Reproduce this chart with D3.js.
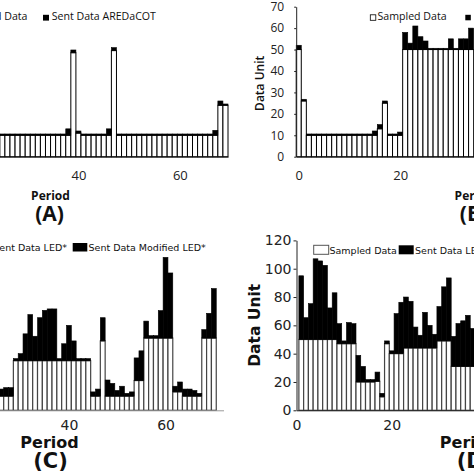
<!DOCTYPE html>
<html>
<head>
<meta charset="utf-8">
<script src="https://cdn.jsdelivr.net/npm/d3@7/dist/d3.min.js"></script>
<style>
  body { margin: 0; background: #fff; }
  svg { display: block; }
</style>
</head>
<body>
<div class="root"></div>
<script>
// panel A : periods 24..69 are visible
var aStart = 24;
var aSampled = [10,10,10,10,10,10,10,10,10,10,10,10,10,10,10, 48.5, 11, 10,10,10,10,10,10, 49.5,
  10,10,10,10,10,10,10,10,10,10,10,10,10,10,10,10,10,10,10,10, 24, 24];
var aSent = [0.6,0.6,0.6,0.6,0.6,0.6,0.6,0.6,0.6,0.6,0.6,0.6,0.6,0.6, 3, 1.3, 1, 0.6,0.6,0.6,0.6,0.6, 3, 1.4,
  0.6,0.6,0.6,0.6,0.6,0.6,0.6,0.6,0.6,0.6,0.6,0.6,0.6,0.6,0.6,0.6,0.6,0.6,0.6, 2.3, 2, 0.6];

// panel B : periods 0..34
var bStart = 0;
var bSampled = [50, 26, 10,10,10,10,10,10,10,10,10,10,10,10,10,10, 13, 25, 10, 10, 10,
  50,50,50,50,50,50,50,50,50,50,50,50,50,50];
var bSent = [2, 0.8, 0.6,0.6,0.6,0.6,0.6,0.6,0.6,0.6,0.6,0.6,0.6,0.6,0.6, 2, 2, 1, 0.6, 0.6, 1.5,
  8, 3, 11, 6, 4, 0.6, 0.6, 0.6, 0.6, 5, 0.6, 5, 5, 10];

// panel C : periods 26..70
var cStart = 26;
var cSampled = [10,10,10, 35,35,35,35,35,35,35,35,35,35,35,35,35,35,35,35, 10,10, 49,
  10,10,10,10,10,10, 21,21, 51,51,51,51,51,51, 13,13, 10,10,10,10, 51,51,51];
var cSent = [5,6,6, 1.5,5,19,32.6,17.3,30.4,35.6,36.6,36.6,1.5,12,25,14,1.5,1.5,1.5, 3,5, 16.4,
  11.4,9,4,7,2,3, 16,21, 12,1.7,1.7,19.4,57,46, 4,7, 5,5,4,2, 6,17.5,35];

// panel D : periods 1..37
var dStart = 1;
var dSampled = [50,50,50,50,50,50,50,50, 47,47,47,47, 20,20,20,20, 20.5, 9.5, 47, 40,40,40,
  44,44,44,44,44,44,44, 49,49,49, 31,31,31,31,31];
var dSent = [45,15.4,25.3,57,55.5,52.4,22.3,33, 14.2,2,15,14.2, 18.8,11,1.7,1.7, 6.5, 2.5, 2, 2,28.3,36.3,
  36,33,14.8,9,25.2,16,9.7, 24.3,38.2,44.5, 21.2,30.3,32.2,36.1,26.8];

var xTicks = [0, 20, 40, 60];
var abYTicks = [0, 10, 20, 30, 40, 50, 60, 70];
var cdYTicks = [0, 20, 40, 60, 80, 100, 120];

var fontAB = '"Open Sans", sans-serif';
var fontCD = '"DejaVu Sans", sans-serif';

var svg = d3.select('.root').append('svg')
  .attr('width', 474)
  .attr('height', 474);

var xA = d3.scaleLinear().domain([-0.5, 69.5]).range([-126.9, 228]);
var xB = d3.scaleLinear().domain([-0.5, 69.5]).range([296.2, 651.1]);
var yAB = d3.scaleLinear().domain([0, 70]).range([156.7, 6.7]);
var xC = d3.scaleLinear().domain([0, 72]).range([-124.3, 223.5]);
var xD = d3.scaleLinear().domain([0, 72]).range([296.5, 639.2]);
var yCD = d3.scaleLinear().domain([0, 120]).range([410.3, 240.4]);

function drawBars(g, x, y, start, sampled, sent, line, lw) {
  var rows = sampled.map(function(s, i) {
    return {period: start + i, sampled: s, sent: sent[i]};
  });
  g.selectAll('.smp')
    .data(rows)
    .enter().append('rect')
      .attr('class', 'smp')
      .attr('x', function(d) { return x(d.period - 0.5); })
      .attr('width', function(d) { return x(d.period + 0.5) - x(d.period - 0.5); })
      .attr('y', function(d) { return y(d.sampled); })
      .attr('height', function(d) { return y(0) - y(d.sampled); })
      .attr('fill', '#fff')
      .attr('stroke', line)
      .attr('stroke-width', lw);
  g.selectAll('.snt')
    .data(rows)
    .enter().append('rect')
      .attr('class', 'snt')
      .attr('x', function(d) { return x(d.period - 0.5); })
      .attr('width', function(d) { return x(d.period + 0.5) - x(d.period - 0.5); })
      .attr('y', function(d) { return y(d.sampled + d.sent); })
      .attr('height', function(d) { return y(d.sampled) - y(d.sampled + d.sent); })
      .attr('fill', '#000')
      .attr('stroke', '#000')
      .attr('stroke-width', 0.6);
}

function styleAxis(g, font, size, color) {
  g.attr('font-family', font).attr('font-size', size);
  g.selectAll('text').attr('fill', color);
  g.selectAll('line').attr('stroke', color);
  g.select('.domain').attr('stroke', color);
}

function label(txt, x, y, font, size, weight, anchor) {
  svg.append('text')
    .attr('x', x)
    .attr('y', y)
    .attr('font-family', font)
    .attr('font-size', size)
    .attr('font-weight', weight)
    .attr('text-anchor', anchor)
    .attr('fill', '#111')
    .text(txt);
}

// ---- panel A ----
var gA = svg.append('g');
drawBars(gA, xA, yAB, aStart, aSampled, aSent, '#000', 1);
var axA = svg.append('g')
  .attr('transform', 'translate(0,' + yAB(0) + ')')
  .call(d3.axisBottom(xA).tickValues(xTicks).tickSize(0).tickPadding(14));
styleAxis(axA, fontAB, 13, '#222');
label('Period', 50.5, 199.5, fontAB, 12, 'bold', 'middle');
label('(A)', 49.5, 220.7, fontAB, 21, 'bold', 'middle');
svg.append('rect').attr('x', -52).attr('y', 14.8).attr('width', 5.5).attr('height', 5.5)
  .attr('fill', '#fff').attr('stroke', '#000').attr('stroke-width', 0.8);
label('Sampled Data', 27.5, 20, fontAB, 10.6, 'normal', 'end');
svg.append('rect').attr('x', 43).attr('y', 14.8).attr('width', 6).attr('height', 5.8).attr('fill', '#000');
label('Sent Data AREDaCOT', 51.7, 20, fontAB, 10.6, 'normal', 'start');

// ---- panel B ----
var gB = svg.append('g');
drawBars(gB, xB, yAB, bStart, bSampled, bSent, '#000', 1);
var axB = svg.append('g')
  .attr('transform', 'translate(0,' + yAB(0) + ')')
  .call(d3.axisBottom(xB).tickValues(xTicks).tickSize(0).tickPadding(14));
styleAxis(axB, fontAB, 13, '#222');
var ayB = svg.append('g')
  .attr('transform', 'translate(' + xB(-0.5) + ',0)')
  .call(d3.axisLeft(yAB).tickValues(abYTicks).tickSize(2).tickSizeOuter(0).tickPadding(10));
styleAxis(ayB, fontAB, 12, '#222');
svg.append('text')
  .attr('transform', 'translate(263.5,83.3) rotate(-90)')
  .attr('font-family', fontAB).attr('font-size', 12).attr('font-weight', 600)
  .attr('text-anchor', 'middle').attr('fill', '#111')
  .text('Data Unit');
label('Period', 474, 199.5, fontAB, 12, 'bold', 'middle');
label('(B)', 474, 220.7, fontAB, 21, 'bold', 'middle');
svg.append('rect').attr('x', 370.3).attr('y', 14.8).attr('width', 5.5).attr('height', 5.5)
  .attr('fill', '#fff').attr('stroke', '#000').attr('stroke-width', 0.8);
label('Sampled Data', 377.5, 20, fontAB, 10.6, 'normal', 'start');
svg.append('rect').attr('x', 465.3).attr('y', 14.8).attr('width', 5.5).attr('height', 5.5).attr('fill', '#000');

// ---- panel C ----
var gC = svg.append('g');
drawBars(gC, xC, yCD, cStart, cSampled, cSent, '#444', 1.2);
var axC = svg.append('g')
  .attr('transform', 'translate(0,' + yCD(0) + ')')
  .call(d3.axisBottom(xC).tickValues(xTicks).tickSize(0).tickPadding(9.5));
styleAxis(axC, fontCD, 14, '#222');
axC.select('.domain').attr('stroke', '#999');
label('Period', 49.5, 448, fontCD, 16, 'bold', 'middle');
label('(C)', 50.5, 467.5, fontCD, 21, 'bold', 'middle');
svg.append('rect').attr('x', -24).attr('y', 243).attr('width', 14.6).attr('height', 8.5)
  .attr('fill', '#fff').attr('stroke', '#555');
label('Sent Data LED*', 67, 250.5, fontCD, 9.5, 'normal', 'end');
svg.append('rect').attr('x', 72.7).attr('y', 243).attr('width', 14.6).attr('height', 8.5).attr('fill', '#000');
label('Sent Data Modified LED*', 88.5, 250.5, fontCD, 9.5, 'normal', 'start');

// ---- panel D ----
var gD = svg.append('g');
drawBars(gD, xD, yCD, dStart, dSampled, dSent, '#444', 1.2);
var axD = svg.append('g')
  .attr('transform', 'translate(0,' + yCD(0) + ')')
  .call(d3.axisBottom(xD).tickValues(xTicks).tickSize(0).tickPadding(9.5));
styleAxis(axD, fontCD, 14, '#222');
var ayD = svg.append('g')
  .attr('transform', 'translate(' + xD(0) + ',0)')
  .call(d3.axisLeft(yCD).tickValues(cdYTicks).tickSize(3).tickSizeOuter(0).tickPadding(2));
styleAxis(ayD, fontCD, 14, '#222');
svg.append('text')
  .attr('transform', 'translate(260.3,325.3) rotate(-90)')
  .attr('font-family', fontCD).attr('font-size', 15.5).attr('font-weight', 'bold')
  .attr('text-anchor', 'middle').attr('fill', '#111')
  .text('Data Unit');
label('Period', 469, 448, fontCD, 16, 'bold', 'middle');
label('(D)', 475, 467.5, fontCD, 21, 'bold', 'middle');
svg.append('rect').attr('x', 313.7).attr('y', 245.3).attr('width', 15).attr('height', 9)
  .attr('fill', '#fff').attr('stroke', '#555');
label('Sampled Data', 329.5, 253.5, fontCD, 9.5, 'normal', 'start');
svg.append('rect').attr('x', 398.7).attr('y', 245.3).attr('width', 15).attr('height', 9).attr('fill', '#000');
label('Sent Data LED*', 415, 253.5, fontCD, 9.5, 'normal', 'start');
</script>
</body>
</html>
